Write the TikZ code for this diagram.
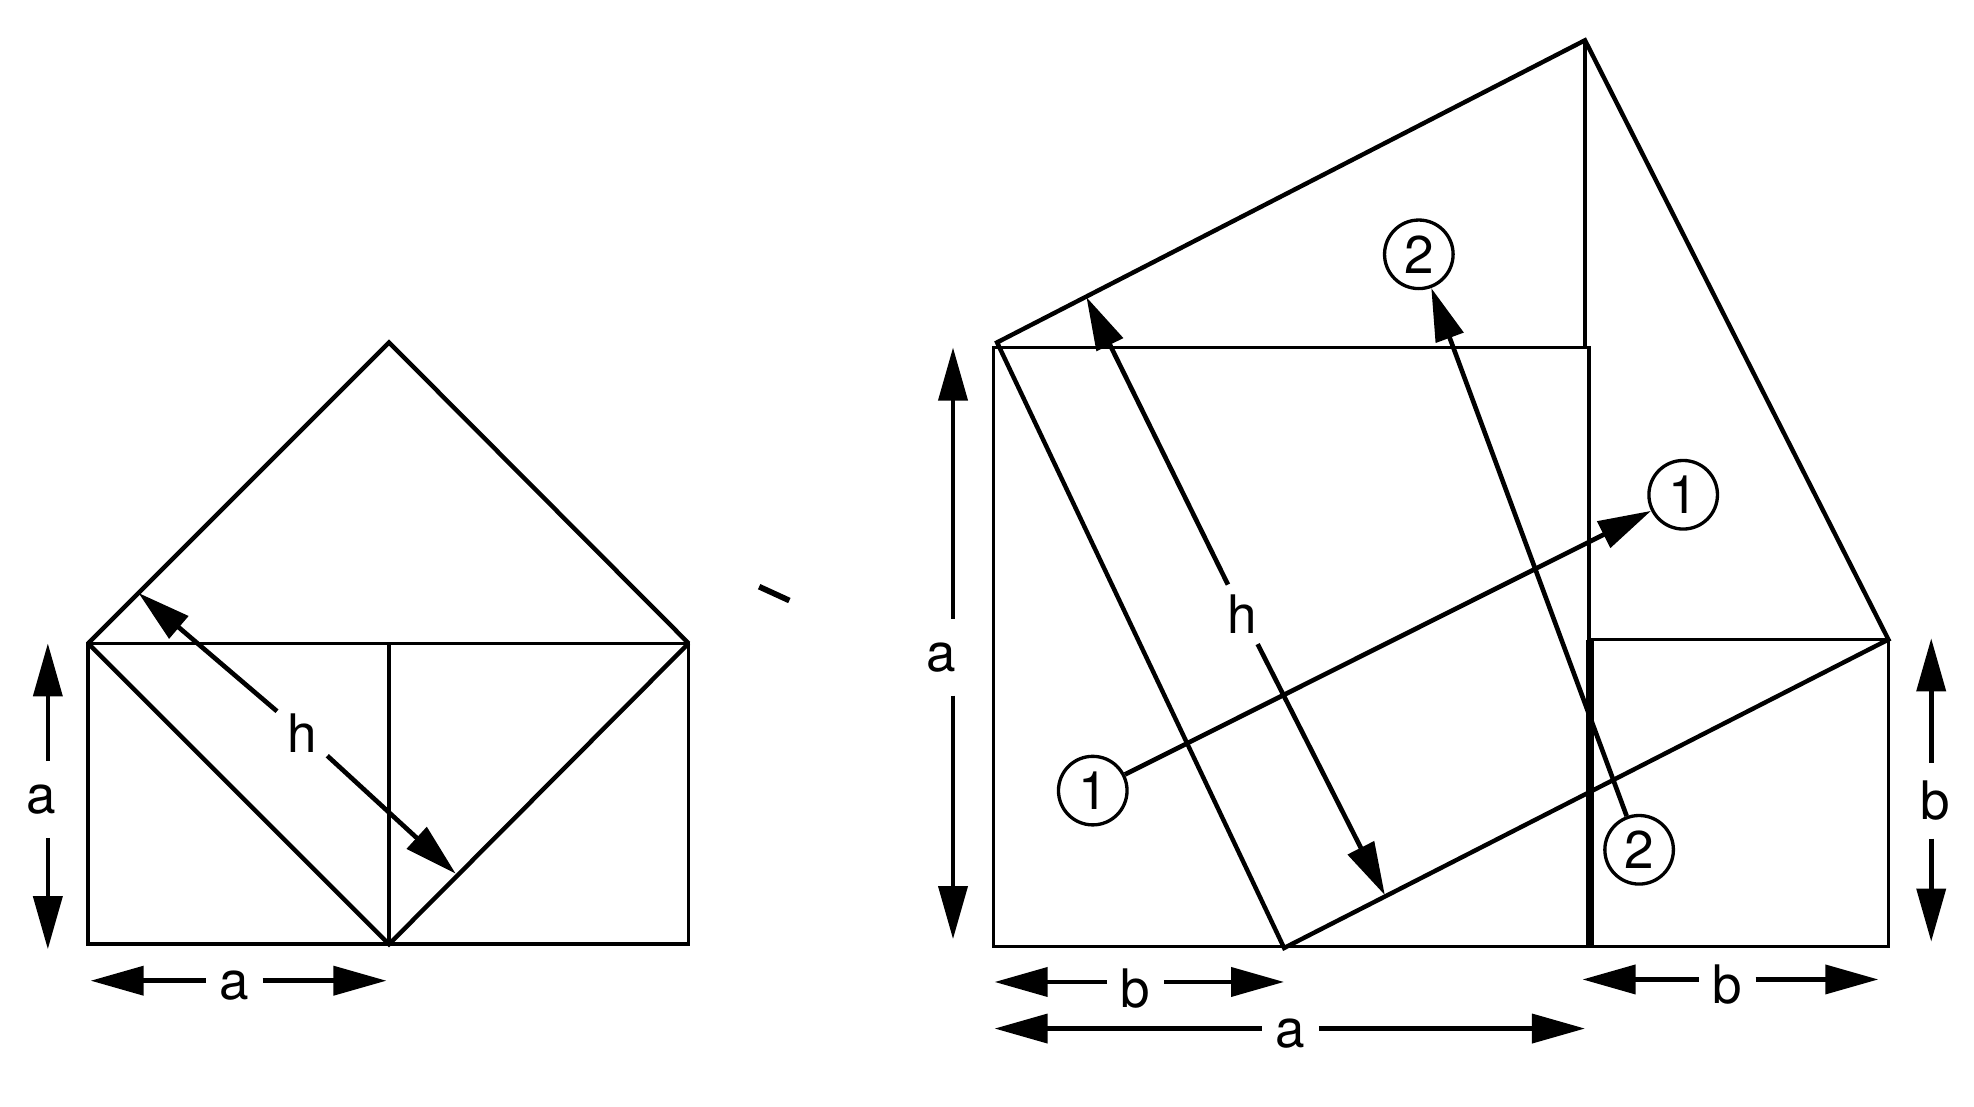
\documentclass[tikz,border=0pt]{standalone}
\usepackage{fontspec}
\setmainfont{TeX Gyre Heros}
\usetikzlibrary{arrows.meta}
\begin{document}
\begin{tikzpicture}[x=0.02cm,y=-0.02cm,
  thinln/.style={line width=1.55pt},
  thickln/.style={line width=2.0pt, line join=miter},
  heavyln/.style={line width=3.3pt},
  dimarr/.style={line width=2.1pt,-{Triangle[length=24pt,width=13pt]}},
  lbl/.style={font=\fontsize{24}{28}\selectfont, inner xsep=6pt, inner ysep=9pt},
  num/.style={circle, draw, line width=1.5pt, minimum size=31pt, inner sep=0pt, font=\fontsize{24}{28}\selectfont}]
\useasboundingbox (0,0) rectangle (1568,879);

% ---------------- left figure ----------------
\draw[thinln] (70,511) rectangle (547,750);
\draw[thinln] (309,511) -- (309,750);
\draw[thickln] (70,511) -- (309,272) -- (547,511);
\draw[thickln] (70,511) -- (309,750) -- (547,511);

\node[lbl, inner sep=4.5pt] (h1) at (240,582) {h};
\coordinate (h1a) at (110,471);
\coordinate (h1b) at (362,694);
\draw[dimarr] (h1) -- (h1a);
\draw[dimarr] (h1) -- (h1b);

\node[lbl, inner ysep=10.5pt] (lv) at (33,635) {a};
\coordinate (lvT) at (38,511);
\coordinate (lvB) at (38,754);
\draw[dimarr] (lv.north -| lvT) -- (lvT);
\draw[dimarr] (lv.south -| lvB) -- (lvB);

\node[lbl] (lh) at (186,783) {a};
\coordinate (lhL) at (72,779);
\coordinate (lhR) at (307,779);
\draw[dimarr] (lh.west |- lhL) -- (lhL);
\draw[dimarr] (lh.east |- lhR) -- (lhR);

% stray mark
\draw[line width=2.6pt] (603,466) -- (627,477);

% ---------------- right figure ----------------
\draw[thinln] (789,276) rectangle (1262,752);
\draw[thinln] (1264,508) rectangle (1500,752);
\draw[heavyln] (1263,508) -- (1263,752);
\draw[thinln] (1259,32) -- (1259,276);

\coordinate (T1) at (792,272);
\coordinate (T2) at (1259,32);
\coordinate (T3) at (1500,508);
\coordinate (T4) at (1020,753);
\draw[thickln] (T1) -- (T2) -- (T3) -- (T4) -- cycle;

\node[lbl, inner sep=4.5pt] (h2) at (987,488) {h};
\coordinate (h2a) at (863,236);
\coordinate (h2b) at (1100,711);
\draw[dimarr] (h2) -- (h2a);
\draw[dimarr] (h2) -- (h2b);

\node[num] (n1a) at (868,628) {1};
\node[num] (n1b) at (1337,393) {1};
\node[num] (n2a) at (1302,675) {2};
\node[num] (n2b) at (1127,202) {2};
\draw[dimarr] (n1a) -- (n1b);
\draw[dimarr] (n2a) -- (n2b);

\node[lbl, inner ysep=10.5pt] (rv) at (748,522) {a};
\coordinate (rvT) at (757,276);
\coordinate (rvB) at (757,746);
\draw[dimarr] (rv.north -| rvT) -- (rvT);
\draw[dimarr] (rv.south -| rvB) -- (rvB);

\node[lbl, inner ysep=8pt] (bv) at (1537,636) {b};
\coordinate (bvT) at (1534,507);
\coordinate (bvB) at (1534,748);
\draw[dimarr] (bv.north -| bvT) -- (bvT);
\draw[dimarr] (bv.south -| bvB) -- (bvB);

\node[lbl] (b1) at (902,785) {b};
\coordinate (b1L) at (790,780);
\coordinate (b1R) at (1020,780);
\draw[dimarr] (b1.west |- b1L) -- (b1L);
\draw[dimarr] (b1.east |- b1R) -- (b1R);

\node[lbl] (ah) at (1025,821) {a};
\coordinate (ahL) at (790,817);
\coordinate (ahR) at (1259,817);
\draw[dimarr] (ah.west |- ahL) -- (ahL);
\draw[dimarr] (ah.east |- ahR) -- (ahR);

\node[lbl] (b2) at (1372,782) {b};
\coordinate (b2L) at (1257,778);
\coordinate (b2R) at (1492,778);
\draw[dimarr] (b2.west |- b2L) -- (b2L);
\draw[dimarr] (b2.east |- b2R) -- (b2R);
\end{tikzpicture}
\end{document}
